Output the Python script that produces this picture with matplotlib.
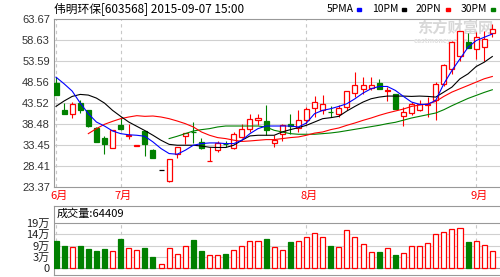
import matplotlib
matplotlib.use('Agg')
import matplotlib.pyplot as plt
from matplotlib.patches import Rectangle
import numpy as np

plt.rcParams['font.family'] = ['Noto Sans CJK SC', 'DejaVu Sans']

nan = np.nan

# daily candles, 2015-06-18 .. 2015-09-07
opens = [48.4, 41.75, 40.8, 43.45, 41.77, 37.62, 35.05, 32.82, 38.17, 35.7,
         33.3, 36.8, 32.2, 27.4, 24.9, 31.23, 35.7, 36.6, 34.1, 29.6,
         32.3, 33.75, 32.75, 35.38, 37.21, 39.52, 39.12, 33.94, 36.02, 38.41,
         37.53, 39.36, 42.4, 41.75, 41.4, 40.8, 42.55, 45.9, 46.77, 47.17,
         48.29, 46.3, 45.58, 40.4, 41.2, 41.91, 42.95, 44.15, 47.97, 51.72,
         54.9, 58.25, 56.5, 56.9, 60.24]
highs = [49.85, 43.6, 43.75, 44.17, 41.9, 37.7, 35.6, 37.0, 40.26, 38.41,
         33.35, 36.9, 32.4, 27.4, 30.05, 33.0, 36.35, 38.9, 35.1, 32.9,
         34.4, 34.5, 36.5, 38.57, 40.96, 40.8, 43.11, 35.78, 38.57, 40.96,
         41.76, 42.55, 45.3, 45.5, 42.71, 42.95, 46.5, 50.92, 49.72, 49.72,
         49.33, 47.33, 45.74, 42.55, 43.75, 44.31, 44.94, 48.53, 52.91, 58.49,
         60.88, 60.24, 60.48, 60.88, 62.48]
lows = [45.4, 40.9, 40.0, 41.22, 37.7, 34.2, 31.4, 32.7, 37.1, 34.98,
        33.3, 30.8, 30.3, 27.4, 24.6, 30.43, 33.78, 34.0, 32.5, 29.6,
        31.8, 32.9, 32.4, 35.2, 36.57, 38.17, 35.78, 32.99, 34.42, 36.17,
        36.57, 38.57, 40.2, 40.96, 40.16, 40.16, 41.9, 44.94, 45.74, 46.54,
        46.77, 43.99, 42.1, 37.93, 40.56, 41.5, 40.16, 39.36, 47.49, 50.52,
        53.71, 56.74, 54.11, 53.71, 59.29]
closes = [45.44, 40.96, 43.19, 41.84, 38.0, 34.26, 33.78, 36.97, 37.21, 35.85,
          33.35, 33.78, 30.42, 27.4, 30.02, 32.98, 36.3, 36.5, 32.7, 29.7,
          33.98, 33.65, 36.17, 37.2, 39.68, 39.92, 36.97, 34.74, 38.17, 38.01,
          39.52, 42.15, 43.75, 43.19, 41.3, 42.39, 46.38, 47.89, 47.89, 47.73,
          46.94, 46.6, 42.15, 41.36, 43.35, 43.19, 43.35, 48.13, 52.75, 58.09,
          60.88, 56.74, 59.29, 58.89, 61.28]
# volume in 万
volumes = [11.3, 9.2, 9.1, 9.2, 8.0, 7.2, 8.0, 7.2, 12.1, 8.3,
           7.6, 8.4, 4.7, 1.8, 8.3, 5.9, 9.2, 11.7, 7.2, 5.4,
           5.4, 6.1, 7.8, 9.2, 11.6, 11.2, 12.1, 8.7, 7.8, 10.9,
           11.2, 13.2, 14.9, 13.2, 9.2, 8.7, 16.1, 13.2, 10.3, 7.0,
           6.7, 8.3, 5.5, 6.6, 9.5, 9.5, 10.7, 14.5, 15.3, 16.5,
           16.9, 10.9, 11.6, 9.9, 7.4]

ma5 = [49.72, 48.13, 46.38, 43.5, 40.96, 38.96, 38.0, 36.81, 36.17, 35.9,
       35.78, 35.54, 34.18, 32.59, 31.39, 31.23, 32.19, 33.39, 33.78, 33.94,
       33.94, 33.78, 33.78, 34.58, 36.17, 37.37, 38.0, 38.0, 38.0, 38.0,
       37.77, 38.73, 40.96, 41.75, 42.15, 42.71, 43.35, 44.54, 45.9, 46.94,
       47.49, 47.49, 46.54, 45.1, 43.75, 43.19, 43.19, 44.15, 48.13, 51.32,
       54.11, 56.9, 58.49, 59.29, 60.08]
ma10 = [42.71, 44.0, 45.1, 45.58, 45.42, 44.7, 43.5, 41.75, 40.32, 38.96,
        37.93, 36.9, 35.78, 34.58, 33.6, 33.39, 33.39, 33.39, 33.2, 32.9,
        32.85, 32.85, 33.39, 34.58, 35.62, 35.78, 35.78, 35.78, 36.57, 37.13,
        37.61, 38.17, 38.96, 39.76, 40.0, 40.32, 41.6, 42.71, 43.75, 44.54,
        44.94, 45.18, 45.18, 45.18, 45.1, 45.18, 45.1, 44.94, 46.14, 47.33,
        49.33, 50.52, 52.27, 53.31, 54.67]
ma20 = [nan, nan, nan, nan, 36.17, 37.37, 38.41, 39.12, 39.76, 40.16,
        40.48, 40.32, 40.4, 40.16, 39.76, 39.2, 38.57, 37.77, 36.57, 35.78,
        35.22, 34.98, 34.6, 34.3, 34.42, 34.58, 34.74, 34.74, 34.98, 35.22,
        35.38, 35.78, 36.3, 36.57, 37.13, 37.53, 38.17, 38.73, 39.36, 39.92,
        40.56, 41.12, 41.6, 42.07, 42.71, 43.03, 43.3, 43.9, 45.1, 46.14,
        46.94, 47.73, 48.53, 49.33, 49.88]
ma30 = [nan, nan, nan, nan, nan, nan, nan, nan, nan, nan,
        nan, nan, nan, nan, 34.98, 35.54, 36.17, 36.81, 37.13, 37.37,
        37.77, 38.0, 38.0, 38.0, 38.0, 38.0, 37.77, 36.97, 36.57, 36.17,
        36.02, 36.02, 36.02, 36.17, 36.33, 36.57, 36.89, 37.21, 37.53, 37.85,
        38.17, 38.57, 38.89, 39.4, 39.92, 40.32, 40.72, 41.12, 41.91, 42.87,
        43.75, 44.62, 45.34, 46.06, 46.7]

month_pos = [1, 9, 32, 53]
month_labels = ['6月', '7月', '8月', '9月']
price_ticks = [23.37, 28.41, 33.45, 38.48, 43.52, 48.56, 53.59, 58.63, 63.67]
vol_ticks = [0, 4.75, 9.5, 14.25, 19]
vol_labels = ['0', '3万', '9万', '14万', '19万']

RED = '#ff0000'
GREEN = '#008000'
GRID = '#d0d0d0'
FRAME = '#999999'

W, H = 500, 277
fig = plt.figure(figsize=(5, 2.77), dpi=100)


def fx(px):
    return px / W


def fy(py):
    return 1 - py / H


x = np.arange(1, len(opens) + 1)
step = 8.08
x_left = 1 - 2 / step
x_right = 1 + 444 / step
bw = 0.62

ax = fig.add_axes([fx(54), fy(187), fx(446), 168 / H])
axv = fig.add_axes([fx(54), fy(275), fx(446), 69.3 / H])

# ---- price panel
ax.set_xlim(x_left, x_right)
ax.set_ylim(23.37, 63.67)
for p in price_ticks[1:-1]:
    ax.axhline(p, color=GRID, lw=0.8, zorder=0)
for m in month_pos:
    ax.axvline(m, color='#c8c8c8', lw=0.8, ls=(0, (3, 3)), zorder=0)

# watermark
ax.text(0.985, 0.945, '东方财富网', transform=ax.transAxes, ha='right',
        va='center', fontsize=11, color='#d8d8d8', weight='bold', zorder=1)
ax.text(0.93, 0.875, 'eastmoney.com', transform=ax.transAxes, ha='right',
        va='center', fontsize=5, color='#e0e0e0', weight='bold', zorder=1)

for i in range(len(x)):
    o, h, l, c = opens[i], highs[i], lows[i], closes[i]
    if c > o:
        col, fc = RED, 'white'
    elif c < o:
        col, fc = GREEN, GREEN
    else:
        col, fc = 'black', 'black'
    ax.vlines(x[i], l, h, color=col, lw=0.8, zorder=2)
    ax.bar(x[i], max(abs(c - o), 0.04), bottom=min(o, c), width=bw,
           facecolor=fc, edgecolor=col, lw=0.9, zorder=3)

ax.plot(x, ma30, color=GREEN, lw=0.8, zorder=4)
ax.plot(x, ma20, color=RED, lw=0.8, zorder=4)
ax.plot(x, ma10, color='black', lw=0.8, zorder=4)
ax.plot(x, ma5, color='#0000ff', lw=0.8, zorder=4)

ax.set_yticks(price_ticks)
ax.set_yticklabels(['%.2f' % p for p in price_ticks], family='Liberation Sans',
                   fontsize=8, color='#333333')
ax.set_xticks([])
ax.tick_params(axis='y', length=0, pad=3)
for s in ['left', 'top', 'bottom']:
    ax.spines[s].set_color(FRAME)
    ax.spines[s].set_linewidth(0.8)
ax.spines['right'].set_visible(False)

for m, lab in zip(month_pos, month_labels):
    ax.text(m + 0.35, -0.054, lab, transform=ax.get_xaxis_transform(),
            ha='center', va='center', color=RED, fontsize=8)

# ---- volume panel
axv.set_xlim(x_left, x_right)
axv.set_ylim(-2.77, 26.1)
for v in vol_ticks:
    axv.axhline(v, color=FRAME if v in (0, 19) else GRID, lw=0.8, zorder=0)
for m in month_pos:
    axv.axvline(m, color='#c8c8c8', lw=0.8, ls=(0, (3, 3)),
                ymin=0.097, ymax=0.76, zorder=0)
for i in range(len(x)):
    up = closes[i] >= opens[i]
    axv.bar(x[i], volumes[i], width=bw, facecolor='white' if up else GREEN,
            edgecolor=RED if up else GREEN, lw=0.9, zorder=3)
axv.set_yticks(vol_ticks)
axv.set_yticklabels(vol_labels, fontsize=8, color='#222222')
axv.set_xticks([])
axv.tick_params(axis='y', length=0, pad=3)
for s in ['left', 'top', 'bottom']:
    axv.spines[s].set_color(FRAME)
    axv.spines[s].set_linewidth(0.8)
axv.spines['right'].set_visible(False)

fig.text(fx(57), fy(214), '成交量:64409', ha='left', va='center', fontsize=8)

# ---- header
fig.text(fx(54), fy(9), '伟明环保[603568] 2015-09-07 15:00', ha='left',
         va='center', fontsize=8.5)
legend = [('5PMA', '#0000ff', 327), ('10PM', 'black', 372),
          ('20PN', RED, 416), ('30PM', GREEN, 461)]
for lab, col, px in legend:
    fig.text(fx(px), fy(9), lab, ha='left', va='center', fontsize=7.5)
    fig.add_artist(Rectangle((fx(px + 30), fy(11)), fx(4), 2.5 / H,
                             transform=fig.transFigure, color=col))

fig.savefig('out.png', dpi=100)
